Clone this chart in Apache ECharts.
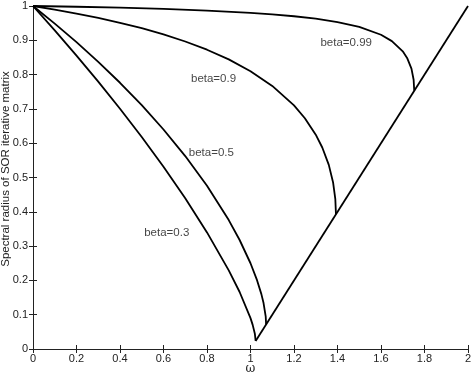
<!DOCTYPE html>
<html>
<head>
<meta charset="utf-8">
<script src="https://cdn.jsdelivr.net/npm/echarts@6/dist/echarts.min.js"></script>
<style>html,body{margin:0;padding:0;background:#fff}#c{width:474px;height:383px}</style>
</head>
<body>
<div id="c"></div>
<script>
// omega values and spectral radius readings for each beta
const omega03 = [0, 0.1, 0.2, 0.3, 0.4, 0.5, 0.6, 0.7, 0.8, 0.9, 0.95, 1.0, 1.01, 1.02, 1.0236];
const rho03   = [1, 0.9289, 0.8555, 0.7795, 0.7004, 0.6179, 0.5312, 0.4392, 0.3399, 0.2293, 0.1662, 0.09, 0.0704, 0.0447, 0.0236];

const omega05 = [0, 0.1, 0.2, 0.3, 0.4, 0.5, 0.6, 0.7, 0.8, 0.9, 0.95, 1.0, 1.03, 1.05, 1.06, 1.07, 1.0718];
const rho05   = [1, 0.9487, 0.8946, 0.8373, 0.7762, 0.7108, 0.64, 0.5625, 0.476, 0.3759, 0.3178, 0.25, 0.2007, 0.16, 0.134, 0.0942, 0.0718];

const omega09 = [0, 0.1, 0.2, 0.3, 0.4, 0.5, 0.6, 0.7, 0.8, 0.9, 1.0, 1.1, 1.2, 1.25, 1.3, 1.33, 1.36, 1.38, 1.39, 1.3929];
const rho09   = [1, 0.9895, 0.978, 0.9653, 0.9511, 0.9352, 0.9171, 0.8965, 0.8726, 0.8443, 0.81, 0.7671, 0.7101, 0.6727, 0.6249, 0.5874, 0.5367, 0.4846, 0.4367, 0.3929];

const omega099 = [0, 0.2, 0.4, 0.6, 0.8, 1.0, 1.1, 1.2, 1.3, 1.4, 1.5, 1.6, 1.65, 1.7, 1.72, 1.74, 1.75, 1.7528];
const rho099   = [1, 0.9978, 0.995, 0.9915, 0.9867, 0.9801, 0.9757, 0.9701, 0.9629, 0.9531, 0.939, 0.9161, 0.8976, 0.8679, 0.8487, 0.8175, 0.785, 0.7528];

// line rho = omega - 1 beyond the optimum
const omegaLine = [1.0236, 2];
const rhoLine   = [0.0236, 1];

// annotation texts and their anchor (data) positions
const labelTexts = ['beta=0.99', 'beta=0.9', 'beta=0.5', 'beta=0.3'];
const labelOmega = [1.44, 0.83, 0.82, 0.615];
const labelRho   = [0.892, 0.787, 0.571, 0.338];

const xTicks = { min: 0, max: 2, interval: 0.2 };
const yTicks = { min: 0, max: 1, interval: 0.1 };

const zip = (a, b) => a.map((v, i) => [v, b[i]]);
const lineSeries = (xs, ys) => ({
  type: 'line', data: zip(xs, ys), showSymbol: false, symbol: 'none',
  lineStyle: { color: '#000', width: 1.8 }, smooth: false, animation: false,
  xAxisIndex: 0, yAxisIndex: 0
});

const axisCommon = {
  axisLine: { show: true, lineStyle: { color: '#222', width: 1 } },
  axisTick: { show: true, inside: true, length: 4, lineStyle: { color: '#222' } },
  splitLine: { show: false }
};

const chart = echarts.init(document.getElementById('c'), null, { renderer: 'canvas' });
chart.setOption({
  backgroundColor: '#fff',
  animation: false,
  grid: { left: 33, right: 6, top: 6, bottom: 34, containLabel: false, outerBoundsMode: 'none' },
  graphic: [{
    type: 'text', x: 6, y: 169, rotation: Math.PI / 2,
    style: { text: 'Spectral radius of SOR iterative matrix', fontFamily: 'Liberation Sans',
      fontSize: 11.5, fill: '#222', align: 'center', verticalAlign: 'middle' }
  }],
  xAxis: [
    Object.assign({
      type: 'value', position: 'bottom', min: xTicks.min, max: xTicks.max, interval: xTicks.interval,
      name: 'ω', nameLocation: 'middle', nameGap: 14, nameMoveOverlap: false,
      nameTextStyle: { fontFamily: 'DejaVu Serif', fontSize: 12, color: '#222' },
      axisLabel: { margin: 4, fontSize: 11, color: '#222', fontFamily: 'Liberation Sans',
        formatter: v => String(+v.toFixed(1)) }
    }, axisCommon),
    Object.assign({
      type: 'value', position: 'top', min: xTicks.min, max: xTicks.max, interval: xTicks.interval,
      axisLabel: { show: false }
    }, axisCommon)
  ],
  yAxis: [
    Object.assign({
      type: 'value', position: 'left', min: yTicks.min, max: yTicks.max, interval: yTicks.interval,
      axisLabel: { margin: 5, fontSize: 11, color: '#222', fontFamily: 'Liberation Sans',
        formatter: v => String(+v.toFixed(1)) }
    }, axisCommon),
    Object.assign({
      type: 'value', position: 'right', min: yTicks.min, max: yTicks.max, interval: yTicks.interval,
      axisLabel: { show: false }
    }, axisCommon)
  ],
  series: [
    lineSeries(omega03, rho03),
    lineSeries(omega05, rho05),
    lineSeries(omega09, rho09),
    lineSeries(omega099, rho099),
    lineSeries(omegaLine, rhoLine),
    {
      type: 'scatter', symbolSize: 0, animation: false,
      data: labelTexts.map((t, i) => ({ value: [labelOmega[i], labelRho[i]], name: t })),
      label: { show: true, position: 'inside', formatter: p => p.name,
        fontSize: 11.5, color: '#111', fontFamily: 'Liberation Sans' },
      emphasis: { disabled: true }
    }
  ]
});
</script>
</body>
</html>
